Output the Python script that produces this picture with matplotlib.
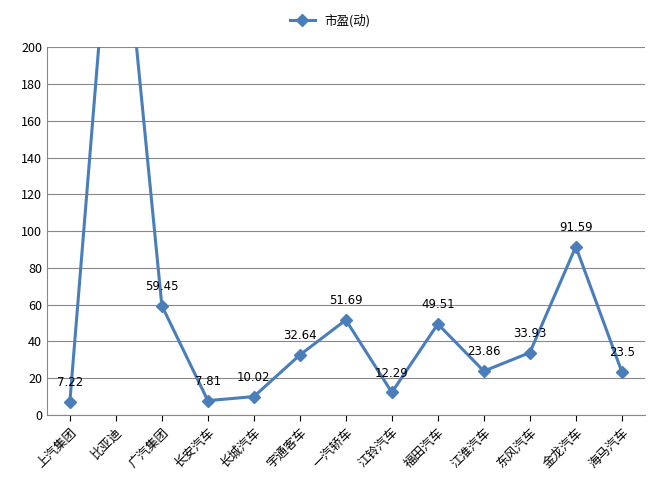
import matplotlib
matplotlib.use("Agg")
import matplotlib.pyplot as plt

plt.rcParams['font.family'] = ['Noto Sans CJK SC', 'DejaVu Sans']

categories = ["上汽集团","比亚迪","广汽集团","长安汽车","长城汽车","宇通客车","一汽轿车","江铃汽车","福田汽车","江淮汽车","东风汽车","金龙汽车","海马汽车"]
values = [7.22, 315, 59.45, 7.81, 10.02, 32.64, 51.69, 12.29, 49.51, 23.86, 33.93, 91.59, 23.5]
labels = ["7.22", None, "59.45", "7.81", "10.02", "32.64", "51.69", "12.29", "49.51", "23.86", "33.93", "91.59", "23.5"]

fig = plt.figure(figsize=(6.6, 4.82), dpi=100)
ax = fig.add_axes([0.071, 0.139, 0.906, 0.763])
x = range(len(categories))
color = "#4a7ebb"
ax.plot(x, values, color=color, lw=2.2, marker="D", ms=6, label="市盈(动)", clip_on=True)
for i, (v, l) in enumerate(zip(values, labels)):
    if l:
        ax.text(i, v + 7, l, ha="center", va="bottom", fontsize=8.5, family="DejaVu Sans")
ax.set_ylim(0, 200)
ax.set_xlim(-0.5, len(categories) - 0.5)
ax.set_yticks(range(0, 201, 20))
ax.set_xticks(list(x))
ax.set_xticklabels(categories, rotation=45, ha="right", rotation_mode="anchor", fontsize=9)
ax.tick_params(axis="y", labelsize=9, length=0)
ax.tick_params(axis="x", length=4)
ax.grid(axis="y", color="#888888", lw=0.8)
ax.set_axisbelow(True)
for s in ["top", "right"]:
    ax.spines[s].set_visible(False)
ax.spines["left"].set_color("#888888")
ax.spines["bottom"].set_color("#888888")
fig.legend(loc="upper center", bbox_to_anchor=(0.5, 0.995), frameon=False, fontsize=9)
fig.savefig("out.png", dpi=100)
